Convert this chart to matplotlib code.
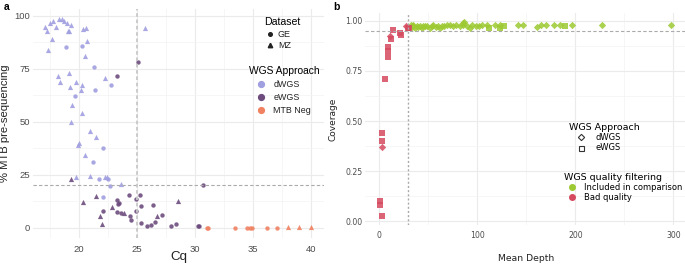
import matplotlib.pyplot as plt
from matplotlib.lines import Line2D

# ---- panel a data (Cq vs % MTB) ----
dwgs_ge_cq = [18.9, 20.26, 21.3, 22.76, 21.4, 19.7, 22.1, 21.24, 21.77, 22.52, 22.72, 22.12]
dwgs_ge_pct = [85.2, 86.0, 75.7, 67.3, 64.8, 62.4, 37.8, 31.2, 23.0, 23.0, 19.8, 14.6]

dwgs_mz_cq = [17.07, 17.27, 17.49, 17.79, 18.0, 18.3, 18.58, 18.76, 18.97, 19.05, 19.19, 19.31,
              17.7, 17.35, 20.34, 20.6, 20.74, 20.57, 25.75, 18.24, 18.36, 19.19, 19.25, 19.77,
              20.26, 20.17, 22.31, 19.42, 20.28, 19.31, 21.0, 21.47, 19.97, 20.03, 20.55, 19.79,
              21.0, 22.27, 22.41, 23.62]
dwgs_mz_pct = [94.6, 92.9, 96.5, 97.6, 94.7, 98.4, 98.4, 97.8, 96.8, 93.1, 93.1, 95.6,
               89.0, 83.9, 93.9, 94.5, 88.2, 81.2, 94.3, 71.8, 68.7, 73.2, 66.6, 68.7,
               67.4, 65.0, 70.6, 58.0, 54.2, 49.9, 45.7, 42.7, 39.2, 40.2, 34.3, 23.8,
               24.6, 23.8, 23.8, 20.8]

ewgs_ge_cq = [25.14, 23.27, 30.72, 23.33, 24.37, 25.32, 24.92, 23.42, 23.5, 22.12, 23.33, 23.65,
              24.94, 25.4, 26.4, 24.42, 24.5, 25.37, 25.86, 26.2, 26.57, 27.15, 27.96, 28.36,
              30.29, 30.4]
ewgs_ge_pct = [78.1, 71.8, 20.3, 13.2, 15.6, 15.3, 13.7, 11.0, 11.8, 8.0, 7.6, 6.8,
               7.7, 10.2, 10.6, 5.5, 3.5, 2.4, 0.9, 1.4, 2.5, 6.0, 0.9, 1.6,
               0.6, 0.9]

ewgs_mz_cq = [19.31, 20.34, 21.47, 22.85, 23.94, 21.84, 22.03, 26.72, 28.53]
ewgs_mz_pct = [22.9, 12.0, 15.0, 9.9, 7.1, 5.5, 1.9, 5.5, 12.6]

neg_ge_cq = [31.03, 31.15, 33.5, 34.51, 34.77, 34.97, 36.24, 37.13]
neg_ge_pct = [0, 0, 0, 0, 0, 0, 0, 0]
neg_mz_cq = [38.02, 39.02, 40.03]
neg_mz_pct = [0.3, 0.3, 0.5]

# ---- panel b data (mean depth vs coverage) ----
good_d_depth = [32.2, 33.2, 34.2, 35.1, 36.8, 38.5, 40.2, 41.9, 43.6, 45.3, 47.0, 49.4, 52.1,
                53.9, 55.5, 58.3, 60.6, 62.4, 64.1, 66.5, 69.2, 72.6, 75.3, 78.7, 82.1,
                85.6, 85.8, 87.1, 89.7, 93.0, 94.8, 99.2, 101.5, 105.0, 110.1, 117.9, 123.7,
                141.8, 146.9, 161.2, 165.3, 169.7, 178.3, 184.1, 196.3, 227.7, 297.9]
good_d_cov = [0.98, 0.97, 0.98, 0.972, 0.964, 0.976, 0.968, 0.976, 0.964, 0.973, 0.976, 0.973, 0.964,
              0.976, 0.98, 0.968, 0.976, 0.964, 0.973, 0.976, 0.98, 0.98, 0.973, 0.98, 0.972,
              0.98, 0.99, 0.993, 0.973, 0.964, 0.98, 0.976, 0.973, 0.98, 0.98, 0.98, 0.98,
              0.98, 0.98, 0.971, 0.98, 0.98, 0.98, 0.98, 0.98, 0.98, 0.98]
good_e_depth = [111.8, 123.7, 127.8, 189.5]
good_e_cov = [0.964, 0.964, 0.972, 0.972]

bad_e_depth = [1.0, 1.0, 3.4, 3.4, 3.4, 6.5, 8.9, 9.5, 9.5, 11.9, 14.6, 21.5, 22.2, 29.7, 31.0]
bad_e_cov = [0.10, 0.08, 0.028, 0.44, 0.40, 0.711, 0.87, 0.85, 0.82, 0.91, 0.952, 0.94, 0.93, 0.962, 0.962]
bad_d_depth = [2.7, 11.0, 27.6]
bad_d_cov = [0.369, 0.924, 0.972]

c_dwgs = "#a09fdf"
c_ewgs = "#6d4c7d"
c_neg = "#f08262"
c_good = "#9dc932"
c_bad = "#d54a5f"

W, H = 685, 264
fig = plt.figure(figsize=(W / 100, H / 100), dpi=100)


def add_ax(l, t, r, b):
    return fig.add_axes([l / W, 1 - b / H, (r - l) / W, (b - t) / H])


def minimal(ax, xmaj, xmin, ymaj, ymin, size, family):
    for s in ax.spines.values():
        s.set_visible(False)
    ax.set_xticks(xmaj)
    ax.set_xticks(xmin, minor=True)
    ax.set_yticks(ymaj)
    ax.set_yticks(ymin, minor=True)
    ax.grid(True, which="major", color="#ebebeb", lw=0.8)
    ax.grid(True, which="minor", color="#f3f3f3", lw=0.5)
    ax.set_axisbelow(True)
    ax.tick_params(which="both", length=0, labelsize=size, labelcolor="#4d4d4d")
    for lab in ax.get_xticklabels() + ax.get_yticklabels():
        lab.set_family(family)


# ---------------- panel a ----------------
fa = "Liberation Sans"
axa = add_ax(33, 9, 324, 238)
axa.axhline(20, color="#aaaaaa", lw=0.8, ls=(0, (3, 2)))
axa.axvline(25, color="#c8c8c8", lw=1.3, ls=(0, (2, 1.5)))
kw = dict(alpha=0.9, linewidths=0)
axa.scatter(dwgs_ge_cq, dwgs_ge_pct, s=10, marker="o", color=c_dwgs, **kw)
axa.scatter(dwgs_mz_cq, dwgs_mz_pct, s=14, marker="^", color=c_dwgs, **kw)
axa.scatter(ewgs_ge_cq, ewgs_ge_pct, s=10, marker="o", color=c_ewgs, **kw)
axa.scatter(ewgs_mz_cq, ewgs_mz_pct, s=14, marker="^", color=c_ewgs, **kw)
axa.scatter(neg_ge_cq, neg_ge_pct, s=10, marker="o", color=c_neg, **kw)
axa.scatter(neg_mz_cq, neg_mz_pct, s=14, marker="^", color=c_neg, **kw)
axa.set_xlim(16.06, 41.15)
axa.set_ylim(-4.9, 103.3)
minimal(axa, [20, 25, 30, 35, 40], [17.5, 22.5, 27.5, 32.5, 37.5],
        [0, 25, 50, 75, 100], [12.5, 37.5, 62.5, 87.5], 6.8, fa)
axa.tick_params(axis="x", pad=5)
axa.tick_params(axis="y", pad=2)
axa.set_xlabel("Cq", family=fa, fontsize=9.6, color="#222222", va="center")
axa.xaxis.set_label_coords(0.5, (238 - 257) / 229)
axa.set_ylabel("% MTB pre-sequencing", family=fa, fontsize=8.1, color="#222222", va="center")
axa.yaxis.set_label_coords((5 - 33) / 291, 0.5)

h_ds = [Line2D([], [], ls="", marker="o", ms=2.6, color="#222222"),
        Line2D([], [], ls="", marker="^", ms=3.2, color="#222222")]
leg1 = axa.legend(h_ds, ["GE", "MZ"], title="Dataset", loc="upper left",
                  bbox_to_anchor=(264 / W, 1 - 17 / H), bbox_transform=fig.transFigure,
                  frameon=False, borderpad=0, borderaxespad=0, handlelength=1.4,
                  handletextpad=0.15, labelspacing=0.3, alignment="left",
                  prop={"family": fa, "size": 6.5},
                  title_fontproperties={"family": fa, "size": 7.6})
axa.add_artist(leg1)
h_ap = [Line2D([], [], ls="", marker="o", ms=4.2, color=c) for c in (c_dwgs, c_ewgs, c_neg)]
leg2 = axa.legend(h_ap, ["dWGS", "eWGS", "MTB Neg"], title="WGS Approach", loc="upper left",
                  bbox_to_anchor=(249 / W, 1 - 66 / H), bbox_transform=fig.transFigure,
                  frameon=False, borderpad=0, borderaxespad=0, handlelength=2.6,
                  handletextpad=0.15, labelspacing=0.45, alignment="left",
                  prop={"family": fa, "size": 6.4},
                  title_fontproperties={"family": fa, "size": 7.4})
for t in leg1.get_texts() + leg2.get_texts():
    t.set_color("#222222")

# ---------------- panel b ----------------
fb = "DejaVu Sans"
axb = add_ax(365.4, 12.5, 686, 225.3)
axb.axhline(0.95, color="#aaaaaa", lw=0.8, ls=(0, (3, 2)))
axb.axvline(30, color="#aaaaaa", lw=1.0, ls=(0, (1.5, 1.5)))
kb = dict(alpha=0.85, linewidths=0)
axb.scatter(good_d_depth, good_d_cov, s=14, marker="D", color=c_good, **kb)
axb.scatter(good_e_depth, good_e_cov, s=16, marker="s", color=c_good, **kb)
axb.scatter(bad_e_depth, bad_e_cov, s=16, marker="s", color=c_bad, **kb)
axb.scatter(bad_d_depth, bad_d_cov, s=14, marker="D", color=c_bad, **kb)
axb.set_xlim(-13.9, 312.9)
axb.set_ylim(-0.02, 1.041)
minimal(axb, [0, 100, 200, 300], [50, 150, 250],
        [0, 0.25, 0.5, 0.75, 1.0], [0.125, 0.375, 0.625, 0.875], 5.6, fb)
axb.set_yticklabels(["0.00", "0.25", "0.50", "0.75", "1.00"], family=fb)
axb.tick_params(axis="x", pad=4)
axb.tick_params(axis="y", pad=2)
axb.set_xlabel("Mean Depth", family=fb, fontsize=6.7, color="#222222", va="center")
axb.xaxis.set_label_coords(0.5, (225.3 - 258.5) / 212.8)
axb.set_ylabel("Coverage", family=fb, fontsize=6.5, color="#222222", va="center")
axb.yaxis.set_label_coords((333 - 365.4) / 320.6, 0.5)

h_sh = [Line2D([], [], ls="", marker="D", ms=3.2, mfc="none", mec="#333333", mew=0.8),
        Line2D([], [], ls="", marker="s", ms=3.6, mfc="none", mec="#333333", mew=0.8)]
leg3 = axb.legend(h_sh, ["dWGS", "eWGS"], title="WGS Approach", loc="upper left",
                  bbox_to_anchor=(569 / W, 1 - 123 / H), bbox_transform=fig.transFigure,
                  frameon=False, borderpad=0, borderaxespad=0, handlelength=2.9,
                  handletextpad=0.25, labelspacing=0.15, alignment="left",
                  prop={"family": fb, "size": 6.0},
                  title_fontproperties={"family": fb, "size": 6.8})
axb.add_artist(leg3)
h_q = [Line2D([], [], ls="", marker="o", ms=4.0, color=c) for c in (c_good, c_bad)]
leg4 = axb.legend(h_q, ["Included in comparison", "Bad quality"], title="WGS quality filtering",
                  loc="upper left", bbox_to_anchor=(564 / W, 1 - 173 / H),
                  bbox_transform=fig.transFigure, frameon=False, borderpad=0,
                  borderaxespad=0, handlelength=2.0, handletextpad=0.45,
                  labelspacing=0.12, alignment="left",
                  prop={"family": fb, "size": 6.0},
                  title_fontproperties={"family": fb, "size": 6.8})

fig.text(4 / W, 1 - 7 / H, "a", fontsize=7.5, fontweight="bold", va="center", family=fa)
fig.text(333 / W, 1 - 7 / H, "b", fontsize=7.5, fontweight="bold", va="center", family=fa)

fig.savefig("out.png", dpi=100)
